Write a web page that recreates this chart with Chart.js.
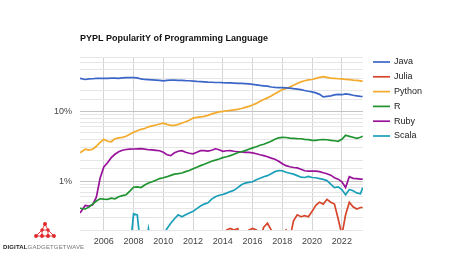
<!DOCTYPE html>
<html>
<head>
<meta charset="utf-8">
<title>PYPL PopularitY of Programming Language</title>
<script src="https://cdn.jsdelivr.net/npm/chart.js@4.4.0/dist/chart.umd.min.js"></script>
<style>
  html, body { margin: 0; padding: 0; background: #fff; }
  #wrap { position: relative; width: 474px; height: 269px; overflow: hidden; }
  #logo { position: absolute; left: 3px; top: 221px; width: 90px; height: 30px; }
  #logo svg { position: absolute; left: 29px; top: 0; }
  #logo .brand { position: absolute; left: 0; top: 23px; white-space: nowrap;
    font-family: "Liberation Sans", Arial, sans-serif; font-size: 6px; letter-spacing: 0.15px; }
  #logo .brand b { color: #222; }
  #logo .brand span { color: #777; }
</style>
</head>
<body>
<div id="wrap">
  <canvas id="lineChart"></canvas>
  <div id="logo">
    <svg width="26" height="18" viewBox="0 0 26 18">
      <g stroke="#e0262b" stroke-width="0.9" fill="none">
        <path d="M13 3 L10 9 L4 15 M13 3 L16 9 L22 15 M10 9 L10 15 M16 9 L16 15 M4 15 L22 15 M10 9 L16 9"/>
      </g>
      <g fill="#e0262b">
        <circle cx="13" cy="3" r="2"/>
        <circle cx="10" cy="9" r="1.7"/>
        <circle cx="16" cy="9" r="1.7"/>
        <circle cx="4" cy="15" r="1.9"/>
        <circle cx="10" cy="15" r="1.9"/>
        <circle cx="16" cy="15" r="1.9"/>
        <circle cx="22" cy="15" r="1.9"/>
      </g>
    </svg>
    <div class="brand"><b>DIGITAL</b><span>GADGETGETWAVE</span></div>
  </div>
</div>
<script>
// PYPL share of searches (%), quarterly
const years = [
  2004.4, 2004.75,
  2005, 2005.25, 2005.5, 2005.75,
  2006, 2006.25, 2006.5, 2006.75,
  2007, 2007.25, 2007.5, 2007.75,
  2008, 2008.25, 2008.5, 2008.75,
  2009, 2009.25, 2009.5, 2009.75,
  2010, 2010.25, 2010.5, 2010.75,
  2011, 2011.25, 2011.5, 2011.75,
  2012, 2012.25, 2012.5, 2012.75,
  2013, 2013.25, 2013.5, 2013.75,
  2014, 2014.25, 2014.5, 2014.75,
  2015, 2015.25, 2015.5, 2015.75,
  2016, 2016.25, 2016.5, 2016.75,
  2017, 2017.25, 2017.5, 2017.75,
  2018, 2018.25, 2018.5, 2018.75,
  2019, 2019.25, 2019.5, 2019.75,
  2020, 2020.25, 2020.5, 2020.75,
  2021, 2021.25, 2021.5, 2021.75,
  2022, 2022.25, 2022.5, 2022.75,
  2023, 2023.25, 2023.4
];

const java = [
  29.6, 28.6,
  29.1, 29.3, 29.6, 29.6,
  29.6, 29.6, 29.9, 29.9,
  29.6, 30.2, 30.4, 30.4,
  30.4, 30.2, 29.1, 28.6,
  28.4, 28.2, 28.0, 27.7,
  27.4, 27.7, 28.0, 28.0,
  27.7, 27.7, 27.5, 27.4,
  27.1, 26.8, 26.6, 26.4,
  26.2, 26.1, 25.9, 25.9,
  25.7, 25.6, 25.5, 25.3,
  25.1, 25.1, 24.9, 24.7,
  24.3, 23.9, 23.5, 23.2,
  22.9, 22.3, 22.0, 21.8,
  21.8, 21.7, 21.5, 21.1,
  20.8, 20.5, 19.9, 19.4,
  19.0, 18.4, 17.5, 16.1,
  16.4, 16.7, 17.2, 17.5,
  17.3, 17.8, 17.5, 17.0,
  16.7, 16.4, 16.3
];

const julia = [
  0.1, 0.1,
  0.1, 0.1, 0.1, 0.1,
  0.1, 0.1, 0.1, 0.1,
  0.1, 0.1, 0.1, 0.1,
  0.1, 0.1, 0.1, 0.1,
  0.1, 0.1, 0.1, 0.1,
  0.1, 0.1, 0.1, 0.1,
  0.1, 0.1, 0.1, 0.1,
  0.1, 0.1, 0.1, 0.1,
  0.1, 0.1, 0.1, 0.1,
  0.1, 0.2, 0.21, 0.2,
  0.21, 0.15, 0.1, 0.2,
  0.21, 0.2, 0.15, 0.22,
  0.25, 0.2, 0.12, 0.1,
  0.18, 0.2, 0.15, 0.27,
  0.33, 0.31, 0.32, 0.31,
  0.37, 0.45, 0.5, 0.47,
  0.55, 0.5, 0.47, 0.29,
  0.17, 0.33, 0.5, 0.43,
  0.4, 0.42, 0.42
];

const python = [
  2.55, 2.87,
  2.78, 2.87, 3.16, 3.6,
  3.98, 3.73, 3.67, 4.05,
  4.18, 4.25, 4.39, 4.69,
  5.01, 5.27, 5.53, 5.67,
  6.0, 6.2, 6.37, 6.59,
  6.79, 6.52, 6.31, 6.31,
  6.52, 6.81, 7.08, 7.44,
  8.0, 8.21, 8.35, 8.49,
  8.77, 9.2, 9.5, 9.84,
  10.0, 10.2, 10.3, 10.5,
  10.7, 11.0, 11.4, 11.8,
  12.3, 13.0, 13.9, 14.8,
  15.6, 16.6, 17.8, 19.1,
  20.5, 21.3, 22.3, 23.6,
  25.1, 26.4, 27.4, 28.2,
  28.6, 29.6, 30.6, 31.3,
  30.6, 29.9, 29.6, 29.3,
  29.1, 28.6, 28.4, 28.0,
  27.7, 27.3, 26.8
];

const rLang = [
  0.41, 0.40,
  0.425, 0.47, 0.52, 0.56,
  0.553, 0.55, 0.57, 0.56,
  0.60, 0.62, 0.64, 0.72,
  0.82, 0.83, 0.81, 0.88,
  0.94, 0.98, 1.03, 1.09,
  1.12, 1.16, 1.21, 1.26,
  1.28, 1.31, 1.37, 1.42,
  1.51, 1.58, 1.67, 1.75,
  1.84, 1.93, 2.0, 2.08,
  2.17, 2.24, 2.32, 2.43,
  2.55, 2.64, 2.74, 2.87,
  3.0, 3.11, 3.27, 3.38,
  3.55, 3.73, 3.98, 4.18,
  4.25, 4.22, 4.14, 4.11,
  4.07, 4.05, 3.98, 3.94,
  3.85, 3.85, 3.92, 3.94,
  3.92, 3.85, 3.79, 3.73,
  3.98, 4.54, 4.39, 4.25,
  4.11, 4.25, 4.39
];

const ruby = [
  0.35, 0.45,
  0.44, 0.46, 0.59, 1.1,
  1.6, 1.84, 2.17, 2.43,
  2.64, 2.77, 2.84, 2.87,
  2.89, 2.91, 2.93, 2.87,
  2.82, 2.80, 2.77, 2.73,
  2.59, 2.39, 2.32, 2.55,
  2.68, 2.74, 2.59, 2.51,
  2.47, 2.59, 2.73, 2.73,
  2.70, 2.77, 2.91, 2.82,
  2.68, 2.73, 2.74, 2.68,
  2.64, 2.62, 2.59, 2.58,
  2.54, 2.47, 2.39, 2.32,
  2.24, 2.14, 2.06, 1.93,
  1.78, 1.67, 1.61, 1.57,
  1.55, 1.48, 1.41, 1.39,
  1.39, 1.39, 1.37, 1.32,
  1.28, 1.22, 1.12, 1.07,
  0.98, 0.81, 1.16, 1.10,
  1.09, 1.07, 1.07
];

const scala = [
  0.1, 0.1,
  0.1, 0.1, 0.1, 0.1,
  0.1, 0.1, 0.1, 0.1,
  0.1, 0.1, 0.1, 0.1,
  0.34, 0.33, 0.1, 0.1,
  0.21, 0.1, 0.1, 0.13,
  0.17, 0.21, 0.25, 0.29,
  0.33, 0.31, 0.33, 0.35,
  0.37, 0.405, 0.44, 0.47,
  0.49, 0.553, 0.60, 0.63,
  0.645, 0.674, 0.71, 0.74,
  0.81, 0.89, 0.94, 0.96,
  0.98, 1.05, 1.10, 1.16,
  1.20, 1.28, 1.37, 1.42,
  1.41, 1.34, 1.30, 1.26,
  1.20, 1.14, 1.13, 1.17,
  1.13, 1.12, 1.09, 1.06,
  1.02, 0.906, 0.81, 0.83,
  0.76, 0.64, 0.76, 0.73,
  0.68, 0.66, 0.81
];

const languages = ['Java', 'Julia', 'Python', 'R', 'Ruby', 'Scala'];
const series = [java, julia, python, rLang, ruby, scala];
const colors = ['#3b66c8', '#d6452a', '#f4ab2c', '#1f9430', '#99139a', '#1a9fb8'];

const yearTicks = [2006, 2008, 2010, 2012, 2014, 2016, 2018, 2020, 2022];
const yLabels = { 1: '1%', 10: '10%' };

const font = '"Liberation Sans", Arial, sans-serif';

// legend drawn to the right of the plot, one line + label per language
const sideLegend = {
  id: 'sideLegend',
  afterDraw(chart) {
    const ctx = chart.ctx;
    const area = chart.chartArea;
    ctx.save();
    ctx.font = '9px ' + font;
    ctx.textBaseline = 'middle';
    chart.data.datasets.forEach((ds, i) => {
      const y = area.top + 5 + i * 14.8;
      ctx.strokeStyle = ds.borderColor;
      ctx.lineWidth = 1.7;
      ctx.beginPath();
      ctx.moveTo(area.right + 10, y);
      ctx.lineTo(area.right + 27, y);
      ctx.stroke();
      ctx.fillStyle = '#222';
      ctx.fillText(ds.label, area.right + 31, y);
    });
    ctx.restore();
  }
};

const datasets = languages.map((name, i) => ({
  label: name,
  data: years.map((x, j) => ({ x: x, y: series[i][j] })),
  borderColor: colors[i],
  backgroundColor: colors[i],
  borderWidth: 1.7,
  pointRadius: 0,
  tension: 0,
  fill: false
}));

new Chart(document.getElementById('lineChart'), {
  type: 'line',
  data: { datasets: datasets },
  plugins: [sideLegend],
  options: {
    responsive: true,
    maintainAspectRatio: false,
    animation: false,
    layout: { padding: { left: 0, right: 111, top: 0, bottom: 0 } },
    scales: {
      x: {
        type: 'linear',
        min: 2004.4,
        max: 2023.42,
        afterBuildTicks: (scale) => { scale.ticks = yearTicks.map(v => ({ value: v })); },
        afterFit: (scale) => { scale.height = 39; },
        border: { display: false },
        grid: { color: '#d4d4d4', drawTicks: false },
        ticks: {
          padding: 6,
          color: '#444',
          font: { family: font, size: 9 },
          maxRotation: 0,
          autoSkip: false,
          callback: (v) => String(v)
        }
      },
      y: {
        type: 'logarithmic',
        min: 0.2,
        max: 60,
        afterFit: (scale) => { scale.width = 80; },
        border: { display: false },
        grid: {
          drawTicks: false,
          color: (c) => (c.tick && yLabels[c.tick.value]) ? '#c4c4c4' : '#e6e6e6'
        },
        ticks: {
          padding: 8,
          color: '#444',
          font: { family: font, size: 9 },
          autoSkip: false,
          callback: (v) => yLabels[v] || ''
        }
      }
    },
    plugins: {
      legend: { display: false },
      tooltip: { enabled: false },
      title: {
        display: true,
        fullSize: false,
        align: 'start',
        text: 'PYPL PopularitY of Programming Language',
        color: '#111',
        font: { family: font, size: 9, weight: 'bold' },
        padding: { top: 33.6, bottom: 12.6 }
      }
    }
  }
});
</script>
</body>
</html>
